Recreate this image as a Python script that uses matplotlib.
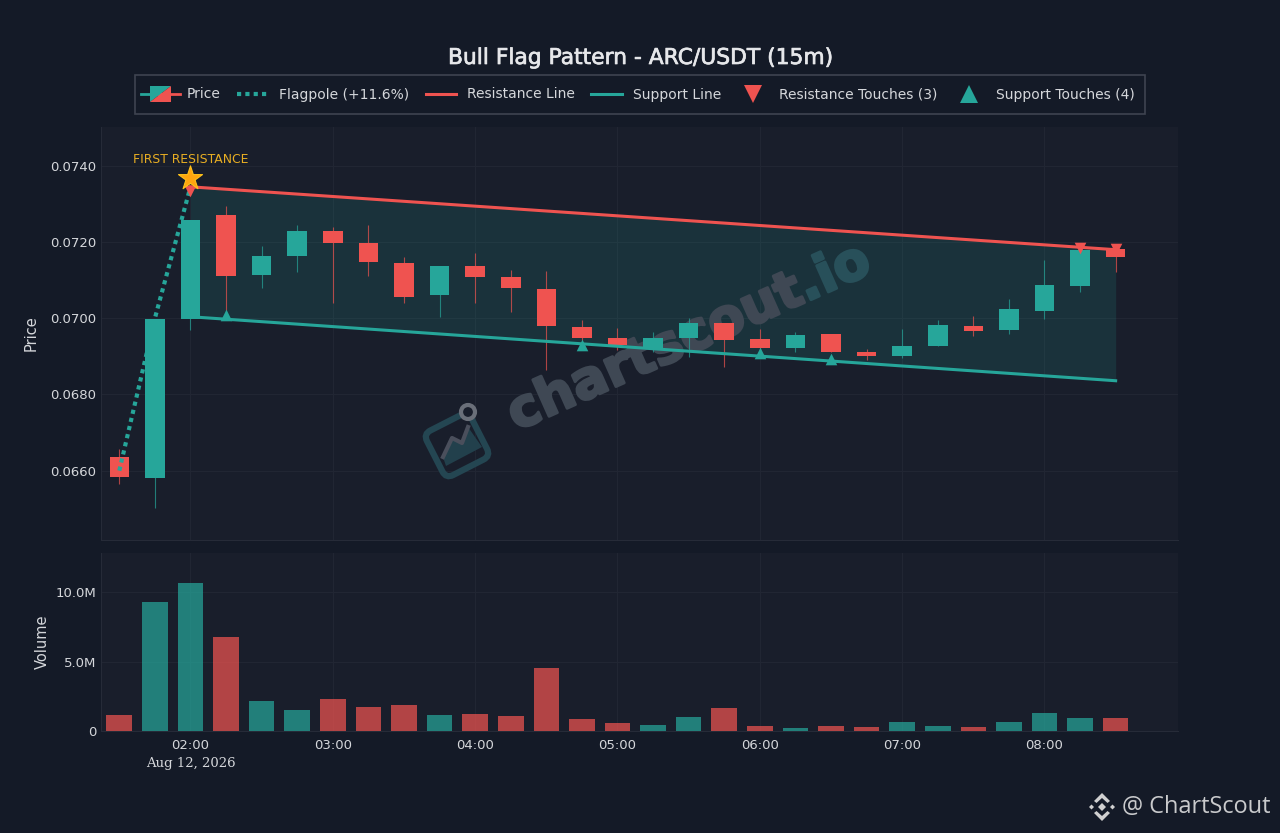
import matplotlib
matplotlib.use("Agg")
import matplotlib.pyplot as plt
import matplotlib.dates as mdates
import matplotlib.patheffects as pe
from matplotlib.legend_handler import HandlerBase
from matplotlib.lines import Line2D
from matplotlib.patches import Circle, FancyBboxPatch, Polygon, Rectangle
from matplotlib.ticker import FuncFormatter
from matplotlib.transforms import Affine2D
import numpy as np
import pandas as pd

# ========== data ==========
times = pd.date_range("2026-08-12 01:30", periods=29, freq="15min")
opens = [.06636, .06581, .06998, .07271, .07114, .07164, .07229, .07198, .07145, .07061,
         .07138, .07109, .07077, .06977, .06949, .06922, .06949, .06988, .06946, .06922,
         .06959, .06912, .06901, .06928, .06980, .06970, .07019, .07085, .07182]
closes = [.06584, .06998, .07258, .07111, .07164, .07229, .07198, .07148, .07056, .07138,
          .07109, .07080, .06980, .06949, .06930, .06949, .06988, .06943, .06922, .06956,
          .06912, .06901, .06928, .06983, .06967, .07025, .07088, .07180, .07161]
highs = [.06657, .06998, .07258, .07295, .07190, .07245, .07240, .07245, .07161, .07138,
         .07172, .07127, .07124, .06996, .06975, .06964, .07001, .06988, .06972, .06964,
         .06959, .06920, .06972, .06996, .07006, .07051, .07153, .07180, .07182]
lows = [.06565, .06502, .06970, .07004, .07080, .07122, .07040, .07111, .07040, .07004,
        .07040, .07017, .06865, .06940, .06917, .06912, .06899, .06872, .06917, .06912,
        .06912, .06891, .06896, .06928, .06954, .06959, .06998, .07069, .07122]
volumes = [1.18, 9.29, 10.69, 6.74, 2.19, 1.49, 2.33, 1.71, 1.85, 1.13, 1.20, 1.06, 4.52, .90, .55,
           .41, .99, 1.64, .39, .19, .34, .26, .63, .39, .31, .63, 1.28, .91, .91]

flag_times = pd.to_datetime(["2026-08-12 01:30", "2026-08-12 01:45", "2026-08-12 02:00"])
flag_prices = [.0660, .0700, .07345]
line_times = pd.to_datetime(["2026-08-12 02:00", "2026-08-12 08:30"])
resistance_prices = [.07345, .07180]
support_prices = [.07004, .06836]

res_touch_times = pd.to_datetime(["2026-08-12 02:00", "2026-08-12 08:15", "2026-08-12 08:30"])
res_touch_prices = [.07335, .07185, .07181]
sup_touch_times = pd.to_datetime(["2026-08-12 02:15", "2026-08-12 04:45", "2026-08-12 06:00", "2026-08-12 06:30"])
sup_touch_prices = [.07008, .06930, .06908, .06892]
star_time = pd.Timestamp("2026-08-12 02:00")
star_price = .07369

# ========== colours ==========
FIG_BG = "#141a27"
AX_BG = "#191e2b"
GRID = "#212633"
TEXT = "#d5d7db"
GREEN = "#26a69a"
RED = "#ef5350"

plt.rcParams["font.family"] = "DejaVu Sans"

fig = plt.figure(figsize=(12.8, 8.33), dpi=100, facecolor=FIG_BG)
W, H = 1280, 833


def axes_px(left, top, right, bottom):
    return fig.add_axes([left / W, 1 - bottom / H, (right - left) / W, (bottom - top) / H])


ax = axes_px(101, 127, 1178, 540)
vax = axes_px(101, 553, 1178, 731)

x_min = pd.Timestamp("2026-08-12 01:22:17")
x_max = pd.Timestamp("2026-08-12 08:56:17")
t = mdates.date2num(times)
step = t[1] - t[0]
is_up = np.array(closes) >= np.array(opens)
colors = [GREEN if u else RED for u in is_up]

# ========== price panel ==========
ax.fill_between(line_times, support_prices, resistance_prices, color=GREEN, alpha=0.15, lw=0, zorder=1)

ax.vlines(t, lows, highs, colors=colors, linewidth=0.8, alpha=0.7, zorder=3)
ax.bar(t, np.abs(np.array(closes) - np.array(opens)), bottom=np.minimum(opens, closes),
       width=step * 0.55, color=colors, linewidth=0, zorder=3)

ax.plot(flag_times, flag_prices, color=GREEN, linestyle=(0, (1, 1)), linewidth=3, zorder=4)
ax.plot(line_times, resistance_prices, color=RED, linewidth=2.2, zorder=5)
ax.plot(line_times, support_prices, color=GREEN, linewidth=2.2, zorder=5)

ax.scatter(res_touch_times, res_touch_prices, marker="v", s=70, color=RED, linewidth=0, zorder=6)
ax.scatter(sup_touch_times, sup_touch_prices, marker="^", s=70, color=GREEN, linewidth=0, zorder=6)
ax.scatter([star_time], [star_price], marker="*", s=330, color="#ffa50f", edgecolor="#ffc21a",
           linewidth=0.8, zorder=7)
ax.annotate("FIRST RESISTANCE", xy=(star_time, star_price), xytext=(0, 13), textcoords="offset points",
            ha="center", va="center", fontsize=8.9, color="#e8ae23", zorder=7)

ax.set_ylim(.06418, .07502)
ax.set_yticks([.0660, .0680, .0700, .0720, .0740])
ax.yaxis.set_major_formatter(FuncFormatter(lambda v, _: f"{v:.4f}"))
ax.set_ylabel("Price", fontsize=10.5, color=TEXT, labelpad=8)

# ========== volume panel ==========
vax.bar(t, volumes, width=step * 0.72, color=colors, alpha=0.72, linewidth=0, zorder=3)
vax.set_ylim(0, 12.82)
vax.set_yticks([0, 5, 10])
vax.yaxis.set_major_formatter(FuncFormatter(lambda v, _: "0" if v == 0 else f"{v:.1f}M"))
vax.set_ylabel("Volume", fontsize=10.5, color=TEXT, labelpad=4.2)

# ========== shared axis styling ==========
for a in (ax, vax):
    a.set_facecolor(AX_BG)
    a.set_xlim(x_min, x_max)
    a.xaxis.set_major_locator(mdates.HourLocator())
    a.xaxis.set_major_formatter(mdates.DateFormatter("%H:%M"))
    a.grid(True, color=GRID, linewidth=0.8, zorder=0)
    a.set_axisbelow(True)
    a.tick_params(axis="x", length=0, colors=TEXT, labelsize=9.5, pad=6)
    a.tick_params(axis="y", length=0, colors=TEXT, labelsize=9.5, pad=3.5)
    for name, spine in a.spines.items():
        spine.set_visible(name in ("left", "bottom"))
        spine.set_color("#262b38")
ax.tick_params(labelbottom=False)
vax.annotate("Aug 12, 2026", xy=(star_time, 0), xytext=(0, -28), textcoords="offset points",
             xycoords=("data", "axes fraction"), ha="center", va="bottom",
             fontsize=9.5, color=TEXT, family="DejaVu Serif")

fig.text(640 / W, 1 - 58 / H, "Bull Flag Pattern - ARC/USDT (15m)", ha="center", va="center",
         fontsize=15.7, color="#e6e7ea",
         path_effects=[pe.withStroke(linewidth=0.5, foreground="#e6e7ea")])


# ========== legend ==========
class PriceHandler(HandlerBase):
    def create_artists(self, legend, orig, xd, yd, width, height, fontsize, trans):
        cx = width / 2 - xd
        cy = height / 2 - yd
        w = width * 0.7
        h = height * 1.65
        bl = (cx - w / 2, cy - h / 2)
        br = (cx + w / 2, cy - h / 2)
        tl = (cx - w / 2, cy + h / 2)
        tr = (cx + w / 2, cy + h / 2)
        left = Line2D([cx - width / 2 - 3, cx], [cy, cy], color=GREEN, lw=2, transform=trans)
        right = Line2D([cx, cx + width / 2 + 3], [cy, cy], color=RED, lw=2, transform=trans)
        up = Polygon([bl, tl, tr], closed=True, color=GREEN, lw=0, transform=trans)
        down = Polygon([bl, br, tr], closed=True, color=RED, lw=0, transform=trans)
        return [left, right, up, down]


handles = [
    Line2D([], [], color=RED),
    Line2D([], [], color=GREEN, linestyle=(0, (1, 1)), linewidth=3),
    Line2D([], [], color=RED, linewidth=2.2),
    Line2D([], [], color=GREEN, linewidth=2.2),
    Line2D([], [], color=RED, marker="v", markersize=13, linestyle="none", markeredgewidth=0),
    Line2D([], [], color=GREEN, marker="^", markersize=13, linestyle="none", markeredgewidth=0),
]
labels = ["Price", "Flagpole (+11.6%)", "Resistance Line", "Support Line",
          "Resistance Touches (3)", "Support Touches (4)"]
px = Affine2D().scale(1 / W, -1 / H).translate(0, 1) + fig.transFigure
fig.add_artist(Rectangle((135, 75), 1010, 39, facecolor=FIG_BG, edgecolor="#3f4450", linewidth=1.2, transform=px))
fig.legend(handles, labels, loc="center", bbox_to_anchor=(640 / W, 1 - 94.5 / H), ncol=6,
           fontsize=10, labelcolor=TEXT, frameon=False, handlelength=2.2, handletextpad=0.8,
           columnspacing=1.18, borderpad=0.6, handler_map={handles[0]: PriceHandler()})

# ========== watermark (under the candles) and brand, placed in pixels ==========
ax.text(806 / W, 1 - 302 / H, "chartscout", rotation=24, rotation_mode="anchor", ha="right", va="baseline",
        fontsize=38, fontweight="bold", color="#3f4854", zorder=2, transform=fig.transFigure,
        path_effects=[pe.Stroke(linewidth=2, foreground="#3f4854")])
ax.text(806 / W, 1 - 302 / H, ".io", rotation=24, rotation_mode="anchor", ha="left", va="baseline",
        fontsize=38, fontweight="bold", color="#28505a", zorder=2, transform=fig.transFigure,
        path_effects=[pe.Stroke(linewidth=2, foreground="#28505a")])

logo = Affine2D().rotate_deg_around(457, 445, -27) + px
fig.add_artist(Polygon([(443, 457), (452, 438), (462, 443), (468, 427), (482, 447), (446, 466)],
                       color="#22404c", lw=0, transform=px, zorder=2))
fig.add_artist(FancyBboxPatch((432, 420), 50, 50, boxstyle="round,pad=0,rounding_size=8", fill=False,
                              edgecolor="#244652", linewidth=4.5, transform=logo, zorder=2))
fig.add_artist(Line2D([443, 452, 462, 468], [457, 438, 443, 427], color="#4a4f5c", linewidth=3,
                      transform=px, zorder=2))
fig.add_artist(Circle((468, 412), 7, facecolor=AX_BG, edgecolor="#6a6f79", linewidth=3, transform=px, zorder=2))

bcx, bcy = 1102, 807
brand = "#d0d0d0"
for dx, dy, r in [(0, 0, 4), (-10.5, 0, 2.5), (10.5, 0, 2.5)]:
    fig.add_artist(Polygon([(bcx + dx - r, bcy + dy), (bcx + dx, bcy + dy - r), (bcx + dx + r, bcy + dy),
                            (bcx + dx, bcy + dy + r)], color=brand, lw=0, transform=px))
for s in (-1, 1):
    fig.add_artist(Polygon([(bcx - 8, bcy + s * 6), (bcx, bcy + s * 14), (bcx + 8, bcy + s * 6), (bcx + 5.5, bcy + s * 4),
                            (bcx, bcy + s * 9), (bcx - 5.5, bcy + s * 4)], color=brand, lw=0, transform=px))
fig.text(1122 / W, 1 - 807 / H, "@ ChartScout", ha="left", va="center", fontsize=16.9,
         color="#c9cacc", family="Open Sans")

fig.savefig("out.png", dpi=100, facecolor=FIG_BG)
plt.close(fig)
